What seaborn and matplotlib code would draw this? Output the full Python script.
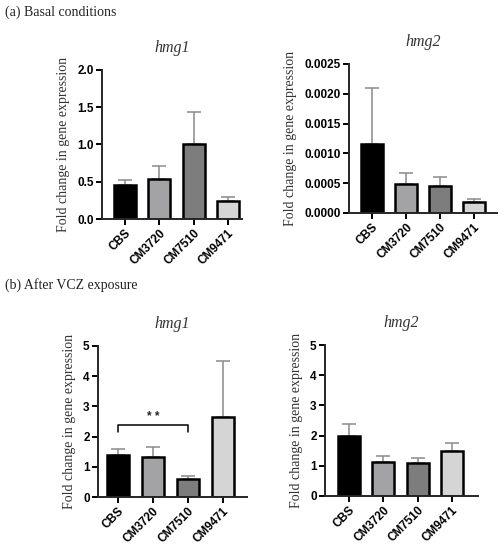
import numpy as np
import pandas as pd
import seaborn as sns
import matplotlib.pyplot as plt

sns.set_style("ticks")
plt.rcParams['font.family'] = ['Liberation Sans', 'DejaVu Sans']

# data
strains = ["CBS", "CM3720", "CM7510", "CM9471"]
colors = ["#000000", "#a2a2a6", "#7d7d7d", "#d5d5d5"]

basal_hmg1 = [0.45, 0.54, 1.00, 0.24]
basal_hmg1_err = [0.08, 0.17, 0.43, 0.05]
basal_hmg2 = [0.00115, 0.00048, 0.00045, 0.00018]
basal_hmg2_err = [0.00094, 0.00019, 0.00016, 0.00005]
vcz_hmg1 = [1.38, 1.33, 0.59, 2.65]
vcz_hmg1_err = [0.21, 0.33, 0.12, 1.85]
vcz_hmg2 = [2.00, 1.14, 1.09, 1.50]
vcz_hmg2_err = [0.40, 0.18, 0.18, 0.25]

W, H = 504, 550
fig = plt.figure(figsize=(W / 100, H / 100), dpi=100)

serif = ['Liberation Serif', 'DejaVu Serif']

panels = [
    # values, errors, title, ylim, yticks, fmt, (left, right, top, bottom px), xlim
    (basal_hmg1, basal_hmg1_err, "hmg1", (0, 2.0), np.arange(0, 2.01, 0.5), "{:.1f}",
     (102, 242, 70, 219), (-0.67, 3.41)),
    (basal_hmg2, basal_hmg2_err, "hmg2", (0, 0.0025), np.arange(0, 0.00251, 0.0005), "{:.4f}",
     (349, 497, 64, 213), (-0.68, 3.68)),
    (vcz_hmg1, vcz_hmg1_err, "hmg1", (0, 5), np.arange(0, 6, 1), "{:.0f}",
     (98, 247, 346, 497), (-0.57, 3.69)),
    (vcz_hmg2, vcz_hmg2_err, "hmg2", (0, 5), np.arange(0, 6, 1), "{:.0f}",
     (325, 478, 345, 496), (-0.70, 3.76)),
]

axes = []
for vals, errs, title, ylim, yticks, fmt, (l, r, t, b), xlim in panels:
    ax = fig.add_axes([l / W, 1 - b / H, (r - l) / W, (b - t) / H])
    df = pd.DataFrame({"strain": strains, "value": vals})
    x = np.arange(len(strains))
    ax.errorbar(x, vals, yerr=[np.zeros(len(vals)), errs], fmt="none",
                ecolor="#8a8a8a", elinewidth=1.1, capsize=5, capthick=1.1,
                zorder=1)
    sns.barplot(data=df, x="strain", y="value", hue="strain", palette=colors,
                errorbar=None, width=0.64, edgecolor="black", linewidth=1.8,
                legend=False, ax=ax, zorder=2)
    ax.set_ylim(*ylim)
    ax.set_xlim(*xlim)
    ax.set_yticks(yticks)
    ax.set_yticklabels([fmt.format(v) for v in yticks], fontsize=8.5,
                       fontweight="bold")
    ax.set_xticks(x)
    ax.set_xticklabels(strains, rotation=45, ha="right", rotation_mode="anchor",
                       fontsize=8.5, fontweight="bold")
    ax.set_xlabel("")
    ax.set_ylabel("Fold change in gene expression", family=serif,
                  fontsize=10, color="#333333", labelpad=5)
    ax.set_title(title, family=serif, style="italic", fontsize=11.5,
                 color="#333333", pad=13)
    for side in ["top", "right"]:
        ax.spines[side].set_visible(False)
    for side in ["left", "bottom"]:
        ax.spines[side].set_linewidth(1.4)
    ax.tick_params(axis="both", length=4.5, width=1.4, pad=1.5, colors="black")
    axes.append(ax)

# significance bracket CBS vs CM7510 after VCZ
ax = axes[2]
ax.plot([0, 0, 2, 2], [2.15, 2.4, 2.4, 2.15], color="black", lw=1.1,
        clip_on=False, zorder=3)
ax.text(1, 2.45, "* *", ha="center", va="bottom", fontsize=8.5, fontweight="bold")

fig.text(5 / W, 1 - 12 / H, "(a) Basal conditions", family=serif,
         fontsize=10, va="center", ha="left", color="#222222")
fig.text(5 / W, 1 - 285 / H, "(b) After VCZ exposure", family=serif,
         fontsize=10, va="center", ha="left", color="#222222")

plt.savefig("out.png", dpi=100)
